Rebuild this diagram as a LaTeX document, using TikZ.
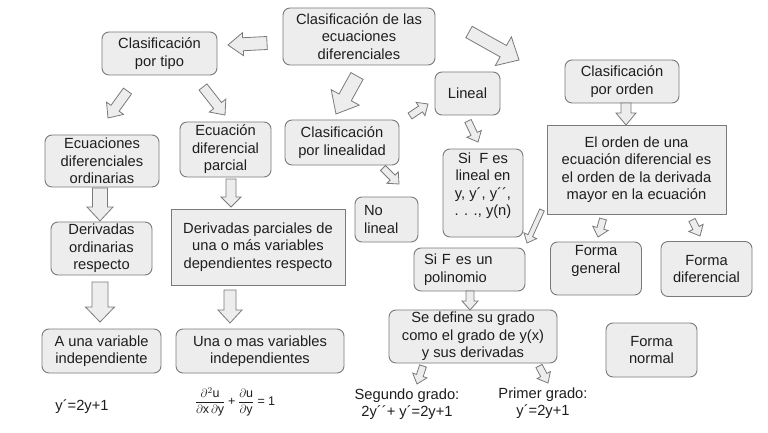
\documentclass[tikz,border=0pt]{standalone}
\usepackage{amsmath}
\usepackage{fontspec}
\setmainfont{Liberation Sans}
\usetikzlibrary{calc}
\definecolor{boxfill}{HTML}{EDEDED}
\definecolor{boxline}{HTML}{7A7A7A}
\definecolor{txt}{HTML}{1E1E1E}
\newcommand{\myfont}{\fontsize{14.7}{17.5}\selectfont}
\newcommand{\raisetext}[2]{\raisebox{#1}[\height][\depth]{\begin{tabular}{@{}c@{}}#2\end{tabular}}}
\newcommand{\blkarrow}[5]{%
  \path ($(#2)!#5!(#1)$) coordinate (bah);
  \draw[barrow] ($(#1)!#3!90:(#2)$) -- ($(bah)!#3!90:(#2)$) -- ($(bah)!#4!90:(#2)$) -- (#2)
    -- ($(bah)!#4!-90:(#2)$) -- ($(bah)!#3!-90:(#2)$) -- ($(#1)!#3!-90:(#2)$) -- cycle;}
\tikzset{
  rbox/.style={draw=boxline, fill=boxfill, line width=0.9pt, rounded corners=7pt,
    inner sep=0pt, align=center, text=txt, font=\myfont},
  sbox/.style={rbox, rounded corners=0pt},
  barrow/.style={draw=boxline, fill=boxfill, line width=0.8pt},
  freetxt/.style={align=center, text=txt, font=\myfont, inner sep=0pt},
}
\begin{document}
\begin{tikzpicture}[x=1pt, y=-1pt]
\fill[white] (0,0) rectangle (768,433);
\useasboundingbox (0,0) rectangle (768,433);

% boxes
\node[rbox, minimum width=152pt, minimum height=57pt] (clasif) at (359,36.5) {Clasificación de las\\ecuaciones\\diferenciales};
\node[rbox, minimum width=115pt, minimum height=43pt] (tipo) at (159.5,53.5) {Clasificación\\por tipo};
\node[rbox, minimum width=114pt, minimum height=52pt] (ordin) at (102,161) {Ecuaciones\\diferenciales\\ordinarias};
\node[rbox, minimum width=91pt, minimum height=55pt] (parcial) at (225.5,149.5) {Ecuación\\diferencial\\parcial};
\node[rbox, minimum width=114pt, minimum height=45pt] (linealidad) at (342,142.5) {Clasificación\\por linealidad};
\node[rbox, minimum width=65pt, minimum height=43pt] (lineal) at (467.5,93.5) {Lineal};
\node[rbox, minimum width=114pt, minimum height=43pt] (orden) at (622,81.5) {Clasificación\\por orden};
\node[sbox, minimum width=179pt, minimum height=89pt] (ordendef) at (636.5,169.5) {El orden de una\\ecuación diferencial es\\el orden de la derivada\\mayor en la ecuación};
\node[rbox, minimum width=80pt, minimum height=88pt] (silineal) at (483,193) {\raisetext{7pt}{Si~ F es\\lineal en\\y, y´, y´´,\\. . ., y(n)}};
\node[rbox, minimum height=45pt, text width=45pt, inner xsep=9pt, align=left] (nolineal) at (386.5,219.5) {No\\lineal};
\node[rbox, minimum width=101pt, minimum height=53pt] (derord) at (101.5,248.5) {Derivadas\\ordinarias\\respecto};
\node[sbox, minimum width=174pt, minimum height=76pt] (derpar) at (258,247) {Derivadas parciales de\\una o más variables\\dependientes respecto};
\node[rbox, minimum height=43pt, text width=91pt, inner xsep=10pt, align=left] (polin) at (469.5,269.5) {Si F es un\\polinomio};
\node[rbox, minimum width=91pt, minimum height=53pt] (fgeneral) at (596,268.5) {\raisetext{7.5pt}{Forma\\general}};
\node[rbox, minimum width=91pt, minimum height=55pt] (fdifer) at (706.5,269) {Forma\\diferencial};
\node[rbox, minimum width=168pt, minimum height=53pt] (grado) at (473,336.5) {Se define su grado\\como el grado de y(x)\\y sus derivadas};
\node[rbox, minimum width=91pt, minimum height=54pt] (fnormal) at (651.5,350) {Forma\\normal};
\node[rbox, minimum width=119pt, minimum height=44pt] (aunavar) at (101.5,351) {A una variable\\independiente};
\node[rbox, minimum width=168pt, minimum height=44pt] (unaomas) at (260,351) {Una o mas variables\\independientes};

% free texts
\node[freetxt] (ej1) at (82,407) {y´=2y+1};
\node[freetxt, font=\fontsize{12.5}{15}\selectfont] (ej2) at (235,402)
  {$\dfrac{\partial^2\text{u}}{\partial\text{x}\,\partial\text{y}}\mathbin{\text{+}}\dfrac{\partial\text{u}}{\partial\text{y}}\mathrel{\text{=}}\text{1}$};
\node[freetxt] (segundo) at (407,404) {Segundo grado:\\2y´´+ y´=2y+1};
\node[freetxt] (primer) at (543,403) {Primer grado:\\y´=2y+1};

% block arrows: tail / tip coordinates
\coordinate (aT) at (267,43);   \coordinate (aH) at (228,45);
\coordinate (bT) at (357,76);   \coordinate (bH) at (336,114);
\coordinate (cT) at (469,32);   \coordinate (cH) at (519,60);
\coordinate (dT) at (127.5,91); \coordinate (dH) at (108,118);
\coordinate (eT) at (203,87);   \coordinate (eH) at (225,115);
\coordinate (fT) at (100,188);  \coordinate (fH) at (100,221);
\coordinate (gT) at (231,179);  \coordinate (gH) at (231,207);
\coordinate (hT) at (100,282);  \coordinate (hH) at (100,322);
\coordinate (iT) at (230,290);  \coordinate (iH) at (230,323);
\coordinate (jT) at (410,116);  \coordinate (jH) at (428,104);
\coordinate (kT) at (383,168);  \coordinate (kH) at (399,184);
\coordinate (lT) at (468,121);  \coordinate (lH) at (478,142);
\coordinate (mT) at (542,210);  \coordinate (mH) at (527,243);
\coordinate (nT) at (626,103);  \coordinate (nH) at (626,125);
\coordinate (oT) at (603,219);  \coordinate (oH) at (598,237);
\coordinate (pT) at (692,220);  \coordinate (pH) at (700,236);
\coordinate (qT) at (470,291);  \coordinate (qH) at (470,310);
\coordinate (rT) at (423,366);  \coordinate (rH) at (417,384);
\coordinate (sT) at (539,366);  \coordinate (sH) at (548,383);

\blkarrow{aT}{aH}{6.5pt}{11.5pt}{15pt}
\blkarrow{bT}{bH}{7pt}{16pt}{19pt}
\blkarrow{cT}{cH}{6.5pt}{16.5pt}{18pt}
\blkarrow{dT}{dH}{5pt}{10.5pt}{12pt}
\blkarrow{eT}{eH}{5pt}{10.5pt}{12pt}
\blkarrow{fT}{fH}{7.5pt}{13pt}{14pt}
\blkarrow{gT}{gH}{5pt}{10pt}{10pt}
\blkarrow{hT}{hH}{8pt}{14.5pt}{15pt}
\blkarrow{iT}{iH}{6pt}{12pt}{13pt}
\blkarrow{jT}{jH}{3.5pt}{8pt}{9pt}
\blkarrow{kT}{kH}{3.5pt}{8pt}{9pt}
\blkarrow{lT}{lH}{3.5pt}{8pt}{9pt}
\blkarrow{mT}{mH}{2.5pt}{7pt}{8pt}
\blkarrow{nT}{nH}{5pt}{10pt}{12pt}
\blkarrow{oT}{oH}{3.5pt}{8pt}{9pt}
\blkarrow{pT}{pH}{3.5pt}{8pt}{9pt}
\blkarrow{qT}{qH}{4pt}{8pt}{9pt}
\blkarrow{rT}{rH}{3.5pt}{7.5pt}{9pt}
\blkarrow{sT}{sH}{3.5pt}{7.5pt}{9pt}
\end{tikzpicture}
\end{document}
